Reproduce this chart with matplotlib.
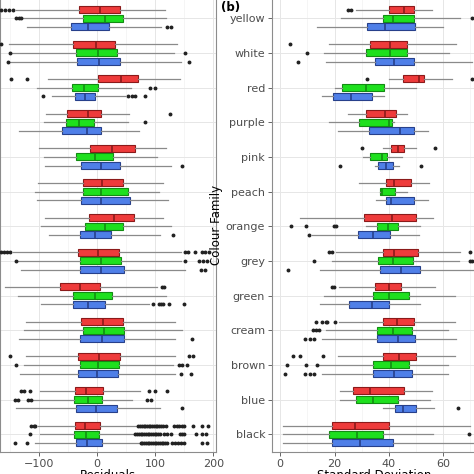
import matplotlib
matplotlib.use("Agg")
import matplotlib.pyplot as plt
import numpy as np

families = ["yellow", "white", "red", "purple", "pink", "peach", "orange",
            "grey", "green", "cream", "brown", "blue", "black"]  # top to bottom

# (whislo, q1, median, q3, whishi)
res_red = [(-139, -31, 5, 39, 117), (-151, -41, -1, 31, 137), (-85, 1, 41, 70, 143),
           (-88, -51, -15, 6, 55), (-100, -12, 26, 65, 118), (-102, -25, 9, 44, 114),
           (-90, -13, 30, 63, 114), (-144, -33, 2, 38, 144), (-159, -63, -29, 5, 104),
           (-123, -28, 10, 45, 135), (-123, -32, 4, 39, 135), (-99, -38, -19, 10, 74),
           (-102, -38, -21, 5, 70)]
res_green = [(-128, -25, 13, 45, 119), (-146, -37, 1, 34, 132), (-104, -43, -22, 2, 59),
             (-91, -53, -31, -6, 54), (-91, -36, -4, 28, 103), (-106, -25, 6, 53, 107),
             (-96, -20, 14, 45, 127), (-139, -30, 6, 41, 144), (-136, -41, -4, 26, 118),
             (-126, -25, 12, 47, 147), (-126, -30, 2, 37, 130), (-111, -40, -15, 8, 61),
             (-98, -40, -19, 3, 65)]
res_blue = [(-121, -44, -15, 21, 110), (-149, -35, 3, 40, 145), (-78, -38, -21, -3, 48),
            (-135, -61, -17, 7, 72), (-90, -28, 7, 40, 128), (-103, -28, 6, 57, 122),
            (-83, -30, -3, 24, 109), (-131, -29, 7, 46, 152), (-96, -42, -16, 13, 89),
            (-135, -30, 9, 46, 135), (-133, -33, 0, 36, 135), (-139, -36, -2, 35, 109),
            (-107, -37, -17, 8, 74)]
res_red_fl = [[-165, -159, -152, -145], [-166], [-148, -121], [126], [], [], [],
              [-165, -160, -155, -150, 152, 156, 168, 180, 186, 192], [111, 116], [],
              [-149, 158, 166], [-130, -125, -116, 90, 99, 120],
              [-113, -109, -106, 71, 74, 77, 80, 83, 86, 89, 92, 95, 98, 101, 104, 107, 110, 114, 118,
               132, 137, 141, 146, 150, 166, 180, 191]]
res_green_fl = [[-140, -135, -130], [-150, 151], [91, 99], [82], [], [], [],
                [-140, 152, 175, 182, 189], [], [], [-139, 141, 146, 154], [-142, -136, -119, -113, 86, 93],
                [-116, 66, 69, 72, 75, 78, 81, 84, 87, 90, 93, 96, 99, 102, 105, 109, 115, 120, 127,
                 142, 146, 150, 171, 180, 187]]
res_blue_fl = [[120, 128], [-153, 158], [-93, 54, 60, 65, 83], [], [147], [], [131],
               [179, 185], [96, 106, 110, 114, 124, 149], [163], [145, 162], [146],
               [-142, -121, 75, 78, 81, 84, 87, 90, 93, 96, 99, 102, 105, 108, 111, 114, 117, 120,
                129, 134, 139, 145, 150, 180, 189]]

sd_red = [(28, 40, 45.6, 49.3, 56), (17.9, 33, 40.5, 46.5, 64.6), (39.9, 45, 50.9, 53, 63.3),
          (25.1, 31.6, 38.4, 42.6, 46.7), (37.7, 40.7, 43.3, 45.4, 49.8), (28.9, 39.1, 41.7, 48.1, 54.6),
          (7.4, 30.9, 41, 50, 56.3), (20.6, 38, 42, 50.6, 66.2), (21.6, 34.9, 39.9, 44.4, 57),
          (21.6, 37.9, 42.8, 49.4, 64.2), (21.4, 37.7, 43.6, 50, 64.2), (21.9, 26.7, 33.1, 45.4, 55.9),
          (1, 18.9, 27.5, 40.1, 69.7)]
sd_green = [(22.5, 37.7, 41.4, 49.4, 66), (16, 31.6, 40.4, 46.5, 62), (20.1, 22.6, 31.5, 38.3, 49.8),
            (17.9, 28.9, 40.1, 41.1, 42), (30.6, 33, 37.3, 39.3, 44.8), (37, 36.8, 37.3, 42.2, 46.7),
            (31.5, 35.6, 39.7, 43.4, 51.4), (18.9, 35.8, 41.6, 48.9, 65.9), (16, 34.2, 39.9, 47.4, 64.4),
            (16.7, 35.6, 41.4, 48.5, 61.7), (14.2, 34, 40.7, 47.5, 61.7), (21.9, 27.8, 34.3, 43.2, 55.2),
            (1, 17.9, 28.1, 38, 56.2)]
sd_blue = [(13.5, 31.9, 38.6, 49.7, 59.9), (16.7, 34.8, 42, 49.4, 70.6), (15.4, 19.5, 25.9, 33.6, 38.3),
           (21.2, 32.7, 44.2, 49.4, 54.3), (34.8, 36, 39, 41.4, 43.8), (35.3, 38.8, 40.9, 49.4, 54.3),
           (11.7, 28.5, 34.1, 40.4, 50.9), (14.8, 36.8, 44.3, 51.6, 75), (14.6, 25.4, 33.6, 40.1, 51.5),
           (15.2, 35.6, 43.5, 49.7, 64.8), (15.2, 34.3, 42, 48.5, 61.7), (37.9, 42.2, 45.3, 50, 56.4),
           (1, 18.9, 29.3, 41.6, 75)]
sd_red_fl = [[25, 26], [3.5], [31.9, 70.4], [], [30, 57], [], [], [18, 19, 69.7], [19, 19.8],
             [13, 15.4, 16.7, 17.3, 20.1], [4.7, 7.4, 15.7], [], []]
sd_green_fl = [[70.6], [9.9], [], [], [], [], [4, 9.6, 19.8, 20.5], [12.6, 69.7, 70.6], [],
               [12.1, 13.3, 14.2], [2.5, 9.6, 13.6], [], [69.4]]
sd_blue_fl = [[], [6.4], [], [], [22, 51.8], [], [10.5], [2.7], [], [9, 10.9, 12.6],
              [1.6, 9, 10.9, 12.6], [65.4], []]

cols = [("#EE3B3B", "#8B1A1A"), ("#1EE01E", "#128C12"), ("#4F7FE8", "#27408B")]
n = len(families)
ypos = np.arange(n, 0, -1)  # yellow at top


def draw(ax, series, fliers):
    for k, (data, fl) in enumerate(zip(series, fliers)):
        face, edge = cols[k]
        off = 0.25 - 0.25 * k
        stats = []
        for (lo, q1, med, q3, hi), f in zip(data, fl):
            stats.append(dict(whislo=lo, q1=q1, med=med, q3=q3, whishi=hi, fliers=f))
        ax.bxp(stats, positions=ypos + off, widths=0.2, vert=False, patch_artist=True,
               showcaps=False,
               boxprops=dict(facecolor=face, edgecolor=edge, linewidth=0.8),
               medianprops=dict(color=edge, linewidth=1.2),
               whiskerprops=dict(color="#8a8a8a", linewidth=0.9),
               flierprops=dict(marker="o", markersize=1.8, markerfacecolor="#222222",
                               markeredgecolor="#222222", linestyle="none"),
               zorder=3)


def style(ax):
    ax.set_facecolor("white")
    ax.grid(True, which="major", color="#e6e6e6", linewidth=0.7, zorder=0)
    ax.grid(True, which="minor", color="#f2f2f2", linewidth=0.5, zorder=0)
    for s in ax.spines.values():
        s.set_color("#8c8c8c")
        s.set_linewidth(0.8)
    ax.tick_params(colors="#4d4d4d", labelsize=8, length=3, width=0.6, pad=2)
    ax.set_ylim(0.48, 13.61)
    ax.set_axisbelow(True)


fig = plt.figure(figsize=(4.74, 4.74), dpi=100)
ax1 = fig.add_axes([0.0, 0.046, 0.456, 0.96])
ax2 = fig.add_axes([0.574, 0.046, 0.43, 0.96])

draw(ax1, [res_red, res_green, res_blue], [res_red_fl, res_green_fl, res_blue_fl])
style(ax1)
ax1.set_xlim(-167, 205)
ax1.set_xticks([-100, 0, 100, 200])
ax1.set_xticks([-150, -50, 50, 150], minor=True)
ax1.set_yticks(ypos)
ax1.set_yticklabels([])
ax1.tick_params(axis="y", length=0)
ax1.tick_params(axis="both", which="minor", length=0)
ax1.set_xlabel("Residuals", fontsize=8.5, labelpad=0)

draw(ax2, [sd_red, sd_green, sd_blue], [sd_red_fl, sd_green_fl, sd_blue_fl])
style(ax2)
ax2.set_xlim(-3, 72)
ax2.set_xticks([0, 20, 40, 60])
ax2.set_xticks([10, 30, 50, 70], minor=True)
ax2.tick_params(axis="both", which="minor", length=0)
ax2.set_yticks(ypos)
ax2.set_yticklabels(families)
ax2.set_xlabel("Standard Deviation", fontsize=8.5, labelpad=0)
ax2.set_ylabel("Colour Family", fontsize=8.5, labelpad=2)

fig.text(0.466, 0.997, "(b)", fontsize=8.5, fontweight="bold", va="top", ha="left")

fig.savefig("out.png", dpi=100, facecolor="white")
